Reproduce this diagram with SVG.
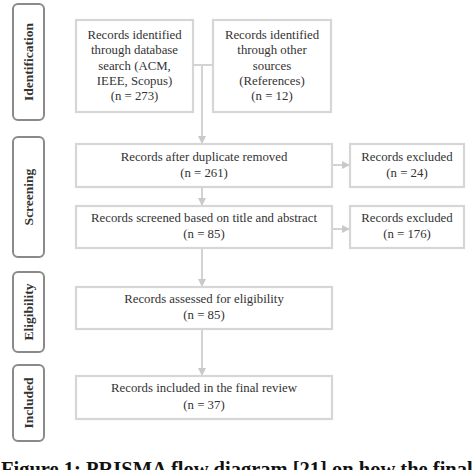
<svg xmlns="http://www.w3.org/2000/svg" width="474" height="470" viewBox="0 0 474 470">
<defs>
<marker id="ah" markerWidth="8" markerHeight="8" refX="7" refY="4" orient="auto" markerUnits="userSpaceOnUse">
<path d="M0,0 L8,4 L0,8 Z" fill="#c9c9c9"/>
</marker>
<style>
.phase{fill:#fff;stroke:#8a8a8a;stroke-width:2}
.box{fill:#fff;stroke:#d6d6d6;stroke-width:2.2}
.t{font-family:"Liberation Serif",serif;font-size:12.8px;fill:#333;text-anchor:middle}
.pt{font-family:"Liberation Serif",serif;font-size:13.5px;font-weight:bold;fill:#333;text-anchor:middle}
.c{fill:none;stroke:#d3d3d3;stroke-width:2}
.cap{font-family:"Liberation Serif",serif;font-size:20.5px;font-weight:bold;fill:#111}
</style>
</defs>
<rect width="474" height="470" fill="#fff"/>
<g id="phase-identification"><rect class="phase" x="13" y="4" width="31" height="116" rx="5"/><text class="pt" transform="translate(33,62) rotate(-90)">Identification</text></g>
<g id="phase-screening"><rect class="phase" x="13" y="137" width="31" height="120" rx="5"/><text class="pt" transform="translate(33,197) rotate(-90)">Screening</text></g>
<g id="phase-eligibility"><rect class="phase" x="13" y="272" width="31" height="80" rx="5"/><text class="pt" transform="translate(33,312) rotate(-90)">Eligibility</text></g>
<g id="phase-included"><rect class="phase" x="13" y="365" width="31" height="76" rx="5"/><text class="pt" transform="translate(33,403) rotate(-90)">Included</text></g>
<g id="connectors">
<path class="c" d="M193,65 H213"/>
<path class="c" d="M202,65 V143" marker-end="url(#ah)"/>
<path class="c" d="M202,187 V205" marker-end="url(#ah)"/>
<path class="c" d="M202,248 V286" marker-end="url(#ah)"/>
<path class="c" d="M202,329 V375" marker-end="url(#ah)"/>
<path class="c" d="M332,165 H349" marker-end="url(#ah)"/>
<path class="c" d="M332,229 H349" marker-end="url(#ah)"/>
</g>
<g id="n-db"><rect class="box" x="76" y="20" width="117" height="92"/>
<text class="t" x="134.500" y="39">Records identified</text>
<text class="t" x="134.500" y="54">through database</text>
<text class="t" x="134.500" y="70">search (ACM,</text>
<text class="t" x="134.500" y="85">IEEE, Scopus)</text>
<text class="t" x="134.500" y="100">(n = 273)</text></g>
<g id="n-other"><rect class="box" x="213" y="20" width="118" height="92"/>
<text class="t" x="272" y="39">Records identified</text>
<text class="t" x="272" y="54">through other</text>
<text class="t" x="272" y="70">sources</text>
<text class="t" x="272" y="85">(References)</text>
<text class="t" x="272" y="100">(n = 12)</text></g>
<g id="n-dup"><rect class="box" x="76" y="144" width="256" height="43"/>
<text class="t" x="204" y="161">Records after duplicate removed</text>
<text class="t" x="204" y="177">(n = 261)</text></g>
<g id="n-ex1"><rect class="box" x="350" y="144" width="114" height="43"/>
<text class="t" x="407" y="161">Records excluded</text>
<text class="t" x="407" y="177">(n = 24)</text></g>
<g id="n-screen"><rect class="box" x="76" y="206" width="256" height="42"/>
<text class="t" x="204" y="222">Records screened based on title and abstract</text>
<text class="t" x="204" y="238">(n = 85)</text></g>
<g id="n-ex2"><rect class="box" x="350" y="206" width="114" height="42"/>
<text class="t" x="407" y="222">Records excluded</text>
<text class="t" x="407" y="238">(n = 176)</text></g>
<g id="n-elig"><rect class="box" x="76" y="287" width="256" height="42"/>
<text class="t" x="204" y="303">Records assessed for eligibility</text>
<text class="t" x="204" y="319">(n = 85)</text></g>
<g id="n-incl"><rect class="box" x="76" y="376" width="256" height="43"/>
<text class="t" x="204" y="392">Records included in the final review</text>
<text class="t" x="204" y="409">(n = 37)</text></g>
<text class="cap" x="1" y="476">Figure 1: PRISMA flow diagram [21] on how the final</text>
</svg>
